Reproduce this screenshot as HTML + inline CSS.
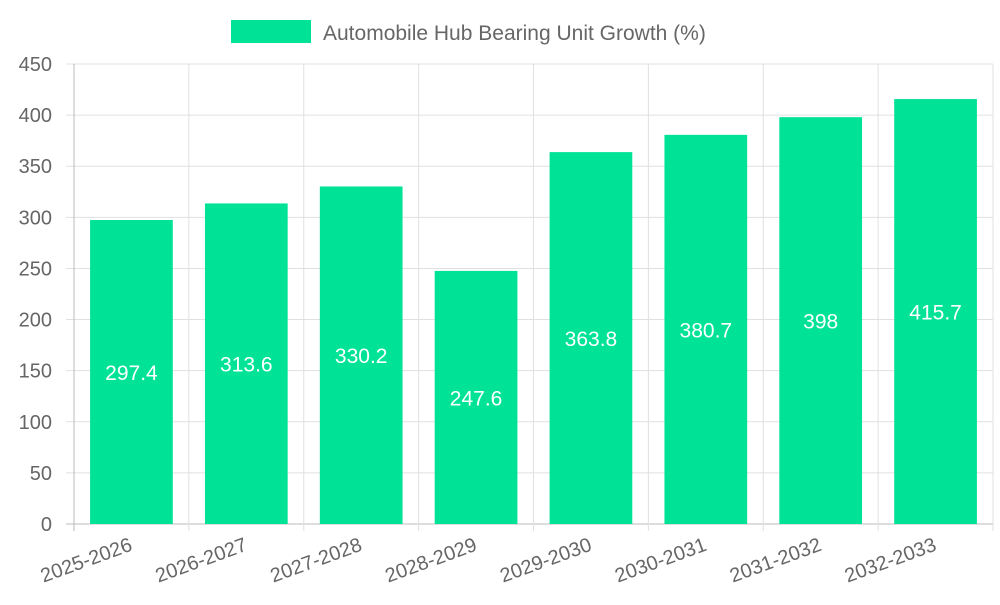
<!DOCTYPE html>
<html><head><meta charset="utf-8"><style>
body{margin:0;background:#fff;}
svg{font-family:"Liberation Sans",sans-serif;}
</style></head><body>
<svg id="chart" width="1000" height="600">
<g>
<rect x="231" y="20" width="80" height="23" fill="#00e396"/>
<text x="323" y="40" font-size="21" fill="#666">Automobile Hub Bearing Unit Growth (%)</text>
</g>
<g id="grid"></g><g id="bars"></g><g id="labels"></g>
</svg>
<script>
const categories=["2025-2026","2026-2027","2027-2028","2028-2029","2029-2030","2030-2031","2031-2032","2032-2033"];
const values=[297.4,313.6,330.2,247.6,363.8,380.7,398,415.7];
const yTicks=[0,50,100,150,200,250,300,350,400,450];
const NS="http://www.w3.org/2000/svg";
const L=74,R=993,T=64,B=524,yMax=450;
const y=v=>B-(v/yMax)*(B-T);
const bw=(R-L)/categories.length;
const x=i=>L+i*bw;
function mk(p,tag,a,txt){const e=document.createElementNS(NS,tag);for(const k in a)e.setAttribute(k,a[k]);if(txt!==undefined)e.textContent=txt;p.appendChild(e);return e;}
const g=document.getElementById('grid'),bg=document.getElementById('bars'),lg=document.getElementById('labels');
yTicks.forEach(t=>{
 const l=mk(g,'line',{x1:L-8,x2:R,y1:y(t),y2:y(t),stroke:t===0?'#bbb':'#e0e0e0','stroke-width':1});
 
 
 const tx=mk(g,'text',{x:L-22,y:y(t)+7,'text-anchor':'end','font-size':20,fill:'#666'},t);
 
 
});
for(let i=0;i<=categories.length;i++){
 const l=mk(g,'line',{x1:x(i),x2:x(i),y1:T,y2:B+7,stroke:i===0?'#bbb':'#e0e0e0','stroke-width':1});
 
 
}
categories.forEach((c,i)=>{
 const cx=x(i)+bw/2,w=bw*0.72;
 const r=mk(bg,'rect',{x:cx-w/2,y:y(values[i]),width:w,height:B-y(values[i]),fill:'#00e396'});
 
 
 const v=mk(lg,'text',{x:cx,y:(y(values[i])+B)/2+8,'text-anchor':'middle','font-size':21,fill:'#fff'},values[i]);
 
 
 const t=mk(lg,'text',{x:cx+2,y:B+26,'text-anchor':'end','font-size':20,fill:'#666',transform:`rotate(-20 ${cx+2} ${B+26})`},c);
 
 
});
</script>
</body></html>
